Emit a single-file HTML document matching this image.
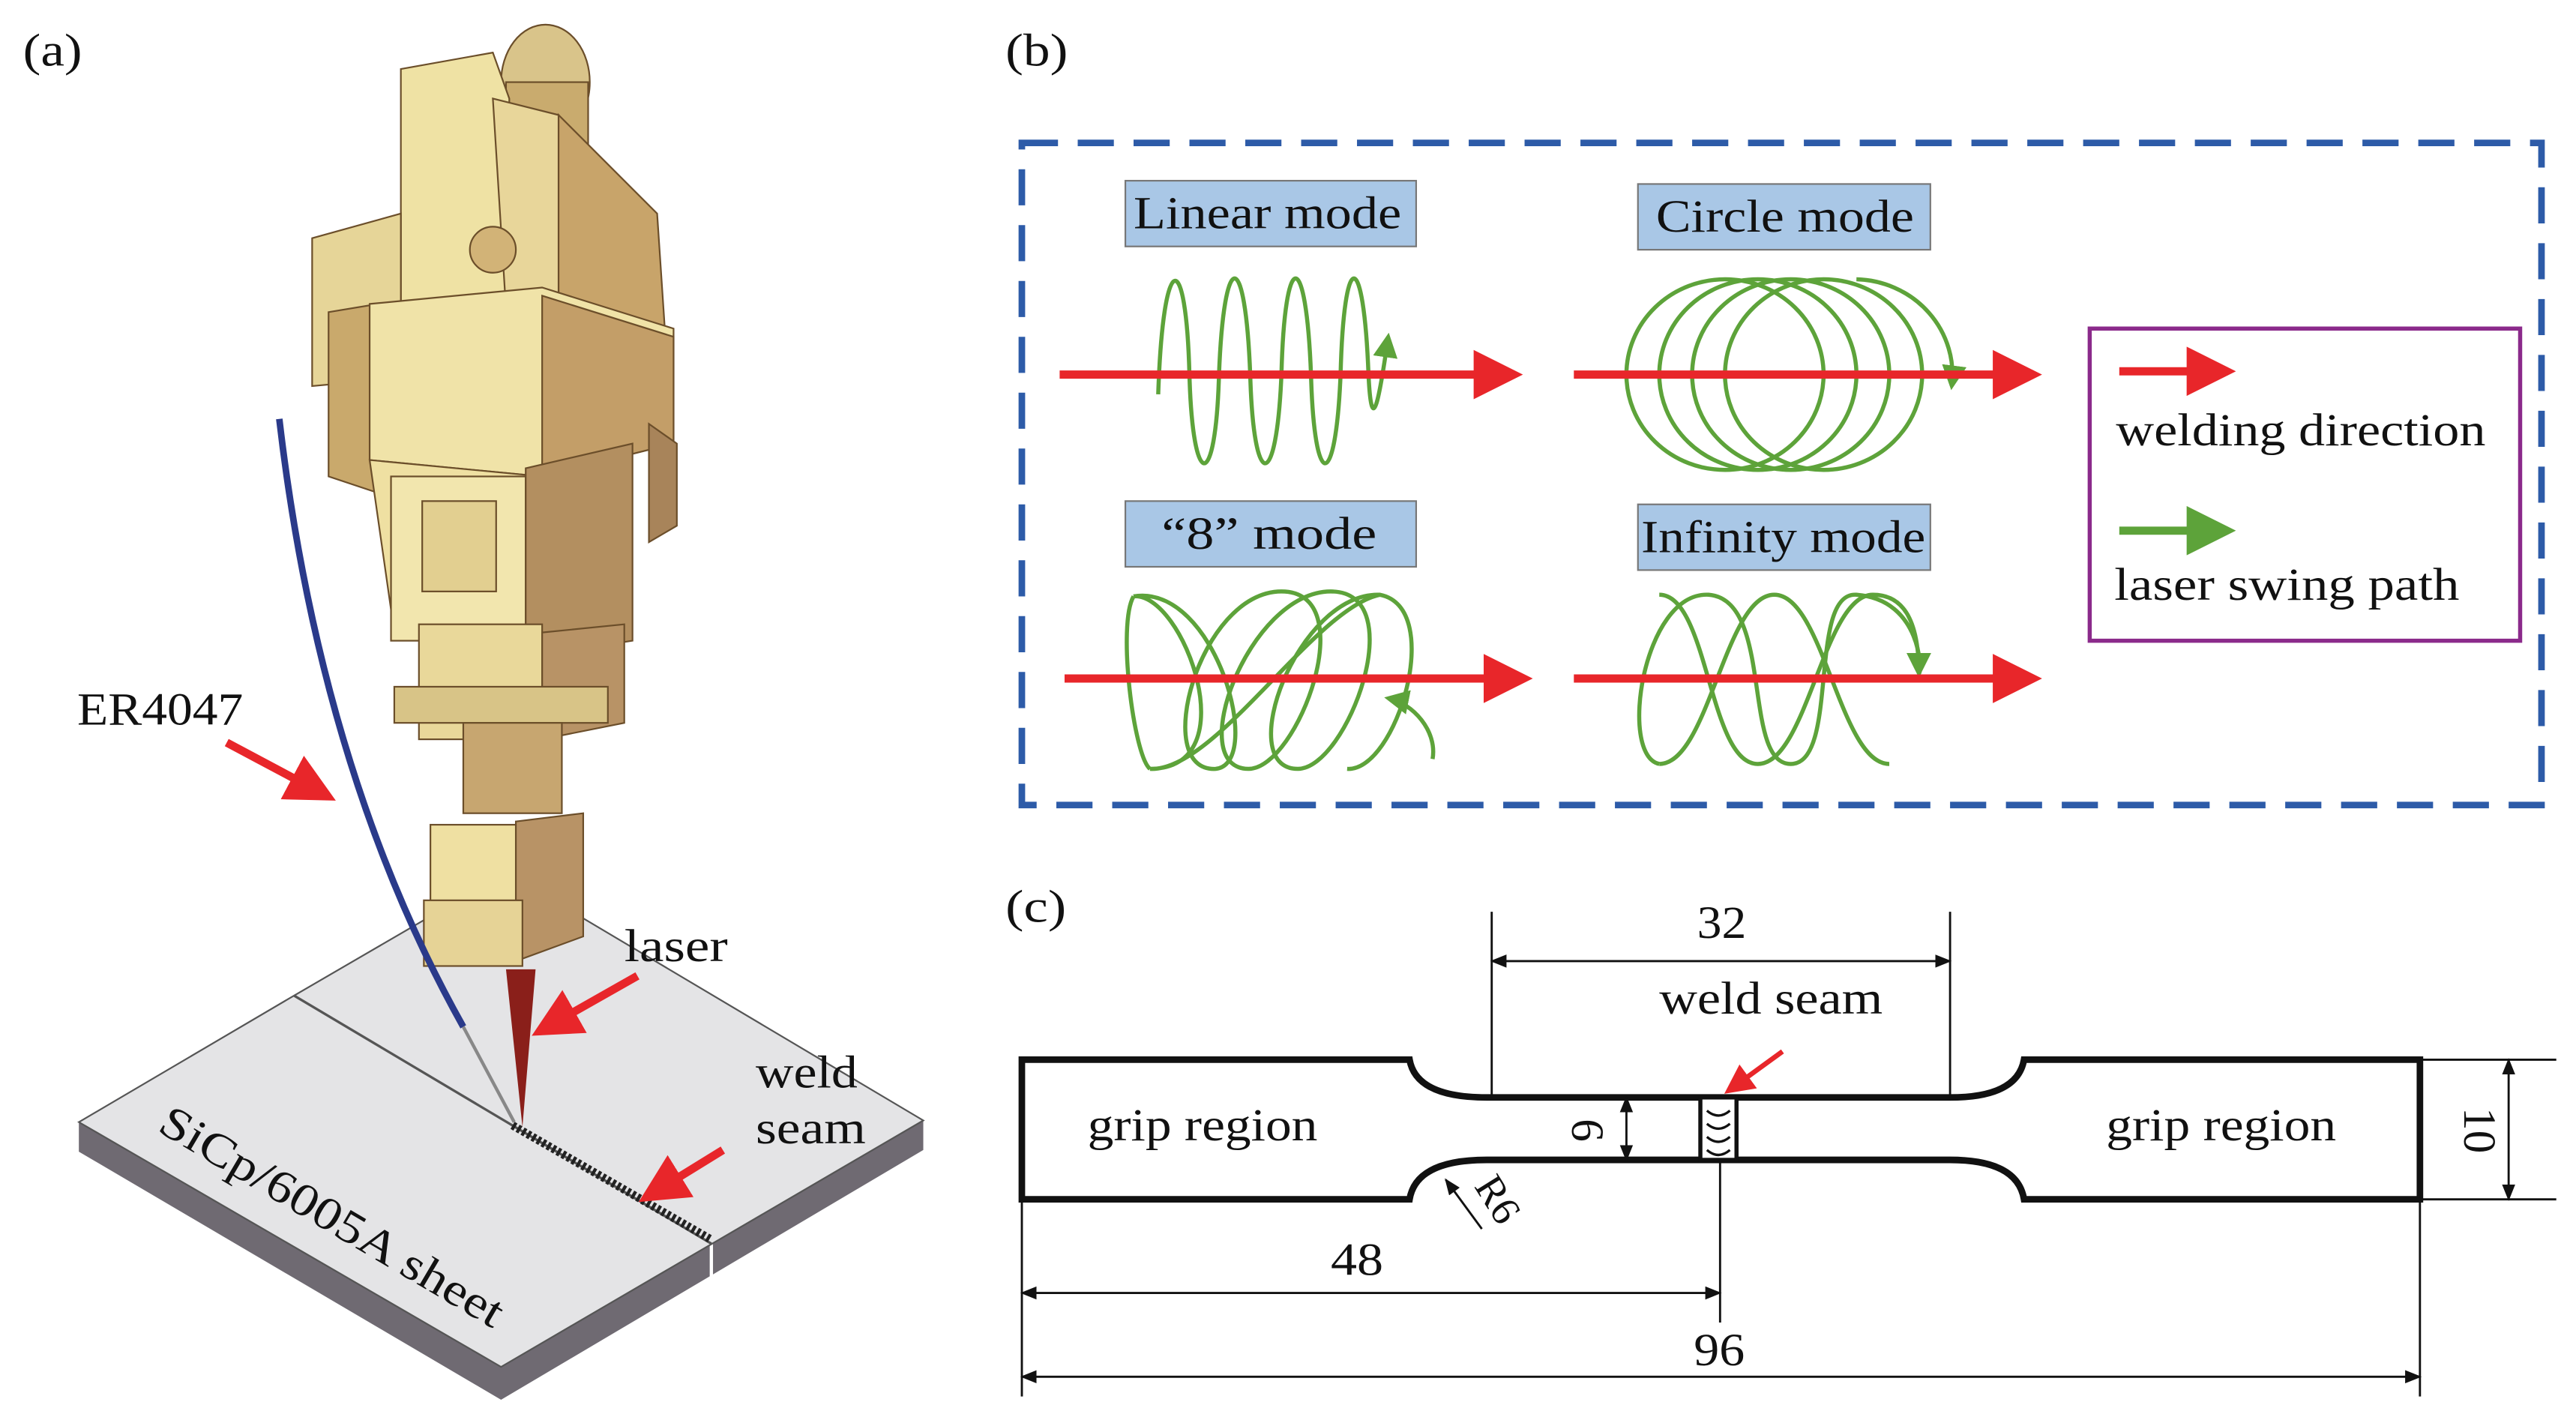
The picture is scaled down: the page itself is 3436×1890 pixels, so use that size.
<!DOCTYPE html>
<html><head><meta charset="utf-8"><style>
html,body{margin:0;padding:0;background:#fff;}
svg{display:block;}
text{font-family:"Liberation Serif",serif;fill:#111;}
</style></head><body>
<svg width="3436" height="1890" viewBox="0 0 1568 862.5" preserveAspectRatio="none" xmlns="http://www.w3.org/2000/svg">
<defs>
<marker id="ar" markerWidth="6" markerHeight="6" refX="5" refY="3" orient="auto" markerUnits="strokeWidth"><path d="M0,0 L6,3 L0,6 Z" fill="#e8262a"/></marker>
<marker id="ag" markerWidth="6" markerHeight="6" refX="5" refY="3" orient="auto" markerUnits="strokeWidth"><path d="M0,0 L6,3 L0,6 Z" fill="#5da33a"/></marker>
<marker id="ab" markerWidth="10" markerHeight="8" refX="9" refY="4" orient="auto" markerUnits="userSpaceOnUse"><path d="M0,0 L10,4 L0,8 Z" fill="#111"/></marker>
<marker id="ab2" markerWidth="10" markerHeight="8" refX="1" refY="4" orient="auto" markerUnits="userSpaceOnUse"><path d="M10,0 L0,4 L10,8 Z" fill="#111"/></marker>
</defs>
<rect width="1568" height="862.5" fill="#fff"/>

<!-- ===== (a) ===== -->
<text x="14" y="40" font-size="28" textLength="36" lengthAdjust="spacingAndGlyphs">(a)</text>
<polygon points="48,683 305,832 562,682 562,700 305,852 48,701" fill="#6f6a72"/>
<line x1="433" y1="757" x2="433" y2="777" stroke="#fff" stroke-width="2"/>
<polygon points="48,683 179,606 308,531 562,682 305,832" fill="#e4e4e6" stroke="#555" stroke-width="1"/>
<line x1="179" y1="606" x2="433" y2="757" stroke="#555" stroke-width="1.5"/>
<line x1="312" y1="685" x2="432" y2="754" stroke="#222" stroke-width="5" stroke-dasharray="2 1.5"/>
<g stroke="#6b4e2a" stroke-width="1">
<ellipse cx="332" cy="50" rx="27" ry="35" fill="#d9c48a"/>
<rect x="308" y="50" width="50" height="55" fill="#c9ab6e"/>
<polygon points="244,42 300,32 310,60 310,220 244,230" fill="#efe2a4"/>
<polygon points="190,145 244,130 244,230 190,235" fill="#e6d598"/>
<polygon points="300,60 340,70 340,225 310,220" fill="#e8d69a"/>
<polygon points="340,70 400,130 405,205 340,225" fill="#c8a46a"/>
<polygon points="200,190 230,185 230,300 200,290" fill="#c9a96c"/>
<polygon points="225,185 330,175 410,200 410,270 330,290 225,280" fill="#f0e3a8"/>
<polygon points="330,180 410,205 410,270 330,290" fill="#c39e68"/>
<polygon points="225,280 330,290 330,385 240,385" fill="#efe0a2"/>
<rect x="238" y="290" width="82" height="100" fill="#f2e6ae"/>
<rect x="257" y="305" width="45" height="55" fill="#e2cf90"/>
<polygon points="320,285 385,270 385,390 320,400" fill="#b38f60"/>
<polygon points="395,258 412,270 412,320 395,330" fill="#a8845a"/>
<rect x="255" y="380" width="75" height="70" fill="#e9d89a"/>
<polygon points="330,385 380,380 380,440 330,450" fill="#b89366"/>
<rect x="240" y="418" width="130" height="22" fill="#d8c487"/>
<rect x="282" y="440" width="60" height="55" fill="#c7a670"/>
<rect x="262" y="502" width="52" height="48" fill="#efe0a2"/>
<polygon points="314,500 355,495 355,570 314,585" fill="#b89366"/>
<rect x="258" y="548" width="60" height="40" fill="#e6d396"/>
<circle cx="300" cy="152" r="14" fill="#d2b377"/>
</g>
<polygon points="308,590 326,590 318,686" fill="#8a1f1a"/>
<path d="M170,255 Q195,470 282,625" fill="none" stroke="#2a3a8a" stroke-width="4"/>
<line x1="282" y1="625" x2="313" y2="683" stroke="#888" stroke-width="2"/>
<line x1="138" y1="452" x2="200" y2="485" stroke="#e8262a" stroke-width="5" marker-end="url(#ar)"/>
<line x1="388" y1="594" x2="328" y2="628" stroke="#e8262a" stroke-width="5" marker-end="url(#ar)"/>
<line x1="440" y1="700" x2="393" y2="729" stroke="#e8262a" stroke-width="5" marker-end="url(#ar)"/>
<g font-size="28">
<text x="47" y="441" textLength="101" lengthAdjust="spacingAndGlyphs">ER4047</text>
<text x="380" y="585" textLength="63" lengthAdjust="spacingAndGlyphs">laser</text>
<text x="460" y="662" textLength="62" lengthAdjust="spacingAndGlyphs">weld</text>
<text x="460" y="696" textLength="67" lengthAdjust="spacingAndGlyphs">seam</text>
<text transform="translate(95,688) rotate(30.5)" textLength="238" lengthAdjust="spacingAndGlyphs">SiCp/6005A sheet</text>
</g>

<!-- ===== (b) ===== -->
<text x="612" y="40" font-size="28" textLength="38" lengthAdjust="spacingAndGlyphs">(b)</text>
<rect x="622" y="87" width="925" height="403" fill="none" stroke="#2d5ba8" stroke-width="4" stroke-dasharray="22 12"/>
<g font-size="28">
<rect x="685" y="110" width="177" height="40" fill="#a9c7e6" stroke="#777"/>
<text x="690" y="139" textLength="163" lengthAdjust="spacingAndGlyphs">Linear mode</text>
<rect x="997" y="112" width="178" height="40" fill="#a9c7e6" stroke="#777"/>
<text x="1008" y="141" textLength="157" lengthAdjust="spacingAndGlyphs">Circle mode</text>
<rect x="685" y="305" width="177" height="40" fill="#a9c7e6" stroke="#777"/>
<text x="707" y="334" textLength="131" lengthAdjust="spacingAndGlyphs">“8” mode</text>
<rect x="997" y="307" width="178" height="40" fill="#a9c7e6" stroke="#777"/>
<text x="999" y="336" textLength="173" lengthAdjust="spacingAndGlyphs">Infinity mode</text>
</g>
<g fill="none" stroke="#5da33a" stroke-width="2.5">
<path d="M705,240 C708,150 722,150 724,228 C726,300 740,300 742,228 C745,150 758,150 761,228 C763,300 777,300 780,228 C782,150 795,150 798,228 C800,300 813,300 816,228 C818,150 830,150 833,228 C835,270 840,240 845,205" marker-end="url(#ag)"/>
<ellipse cx="1050" cy="228" rx="60" ry="58"/>
<ellipse cx="1070" cy="228" rx="60" ry="58"/>
<ellipse cx="1090" cy="228" rx="60" ry="58"/>
<ellipse cx="1110" cy="228" rx="60" ry="58"/>
<path d="M1130,170 A60,58 0 0 1 1188,235" marker-end="url(#ag)"/>
<path d="M690,363 C740,355 770,465 740,468 C700,470 730,360 780,360 C830,360 790,468 760,468 C720,468 760,360 810,360 C860,360 820,468 790,468 C750,468 790,360 840,362 C880,370 850,470 820,468"/>
<path d="M700,468 C740,470 800,370 840,362 M690,363 C680,380 690,460 700,468 M700,468 C760,468 720,360 690,363"/>
<path d="M872,462 C875,445 860,428 845,425" marker-end="url(#ag)"/>
<path d="M1010,465 C985,460 1000,360 1040,362 C1080,365 1060,465 1090,465 C1120,465 1100,360 1130,362 C1170,365 1170,410 1168,410"/>
<path d="M1010,362 C1040,362 1040,465 1070,465 C1100,465 1110,362 1140,362 C1160,362 1168,380 1168,410" marker-end="url(#ag)"/>
<path d="M1010,465 C1040,465 1050,362 1080,362 C1110,362 1120,465 1150,465"/>
</g>
<g stroke="#e8262a" stroke-width="5">
<line x1="645" y1="228" x2="922" y2="228" marker-end="url(#ar)"/>
<line x1="958" y1="228" x2="1238" y2="228" marker-end="url(#ar)"/>
<line x1="648" y1="413" x2="928" y2="413" marker-end="url(#ar)"/>
<line x1="958" y1="413" x2="1238" y2="413" marker-end="url(#ar)"/>
</g>
<rect x="1272" y="200" width="262" height="190" fill="none" stroke="#8b2a8b" stroke-width="2.5"/>
<line x1="1290" y1="226" x2="1356" y2="226" stroke="#e8262a" stroke-width="5" marker-end="url(#ar)"/>
<line x1="1290" y1="323" x2="1356" y2="323" stroke="#5da33a" stroke-width="5" marker-end="url(#ag)"/>
<text x="1288" y="271" font-size="28" textLength="225" lengthAdjust="spacingAndGlyphs">welding direction</text>
<text x="1287" y="365" font-size="28" textLength="210" lengthAdjust="spacingAndGlyphs">laser swing path</text>

<!-- ===== (c) ===== -->
<text x="612" y="561" font-size="28" textLength="37" lengthAdjust="spacingAndGlyphs">(c)</text>
<path d="M622,645 L858,645 Q862,668 905,668 L1187,668 Q1228,668 1232,645 L1473,645 L1473,730 L1232,730 Q1228,706 1187,706 L905,706 Q862,706 858,730 L622,730 Z" fill="none" stroke="#111" stroke-width="4"/>
<g stroke="#111" stroke-width="1.3" fill="none">
<line x1="908" y1="555" x2="908" y2="668"/>
<line x1="1187" y1="555" x2="1187" y2="668"/>
<line x1="908" y1="585" x2="1187" y2="585" marker-start="url(#ab2)" marker-end="url(#ab)"/>
<line x1="1047" y1="706" x2="1047" y2="805"/>
<line x1="990" y1="668" x2="990" y2="706" marker-start="url(#ab2)" marker-end="url(#ab)"/>
<line x1="1473" y1="645" x2="1556" y2="645"/>
<line x1="1473" y1="730" x2="1556" y2="730"/>
<line x1="1527" y1="645" x2="1527" y2="730" marker-start="url(#ab2)" marker-end="url(#ab)"/>
<line x1="622" y1="730" x2="622" y2="850"/>
<line x1="1473" y1="730" x2="1473" y2="850"/>
<line x1="622" y1="787" x2="1047" y2="787" marker-start="url(#ab2)" marker-end="url(#ab)"/>
<line x1="622" y1="838" x2="1473" y2="838" marker-start="url(#ab2)" marker-end="url(#ab)"/>
<line x1="902" y1="748" x2="880" y2="718" marker-end="url(#ab)"/>
</g>
<rect x="1035" y="668" width="22" height="38" fill="#fff" stroke="#111" stroke-width="2.5"/>
<path d="M1039,676 q7,6 14,0 M1039,684 q7,6 14,0 M1039,692 q7,6 14,0 M1039,700 q7,6 14,0" fill="none" stroke="#111" stroke-width="1.5"/>
<line x1="1085" y1="640" x2="1052" y2="664" stroke="#e8262a" stroke-width="3" marker-end="url(#ar)"/>
<g font-size="28">
<text x="1033" y="571" textLength="30" lengthAdjust="spacingAndGlyphs">32</text>
<text x="1010" y="617" textLength="136" lengthAdjust="spacingAndGlyphs">weld seam</text>
<text x="662" y="694" textLength="140" lengthAdjust="spacingAndGlyphs">grip region</text>
<text x="1282" y="694" textLength="140" lengthAdjust="spacingAndGlyphs">grip region</text>
<text x="810" y="776" textLength="32" lengthAdjust="spacingAndGlyphs">48</text>
<text x="1031" y="831" textLength="31" lengthAdjust="spacingAndGlyphs">96</text>
<text transform="translate(957,688) rotate(90)" text-anchor="middle">6</text>
<text transform="translate(1500,688) rotate(90)" text-anchor="middle">10</text>
<text transform="translate(897,722) rotate(58)" font-size="25">R6</text>
</g>
</svg>
</body></html>
